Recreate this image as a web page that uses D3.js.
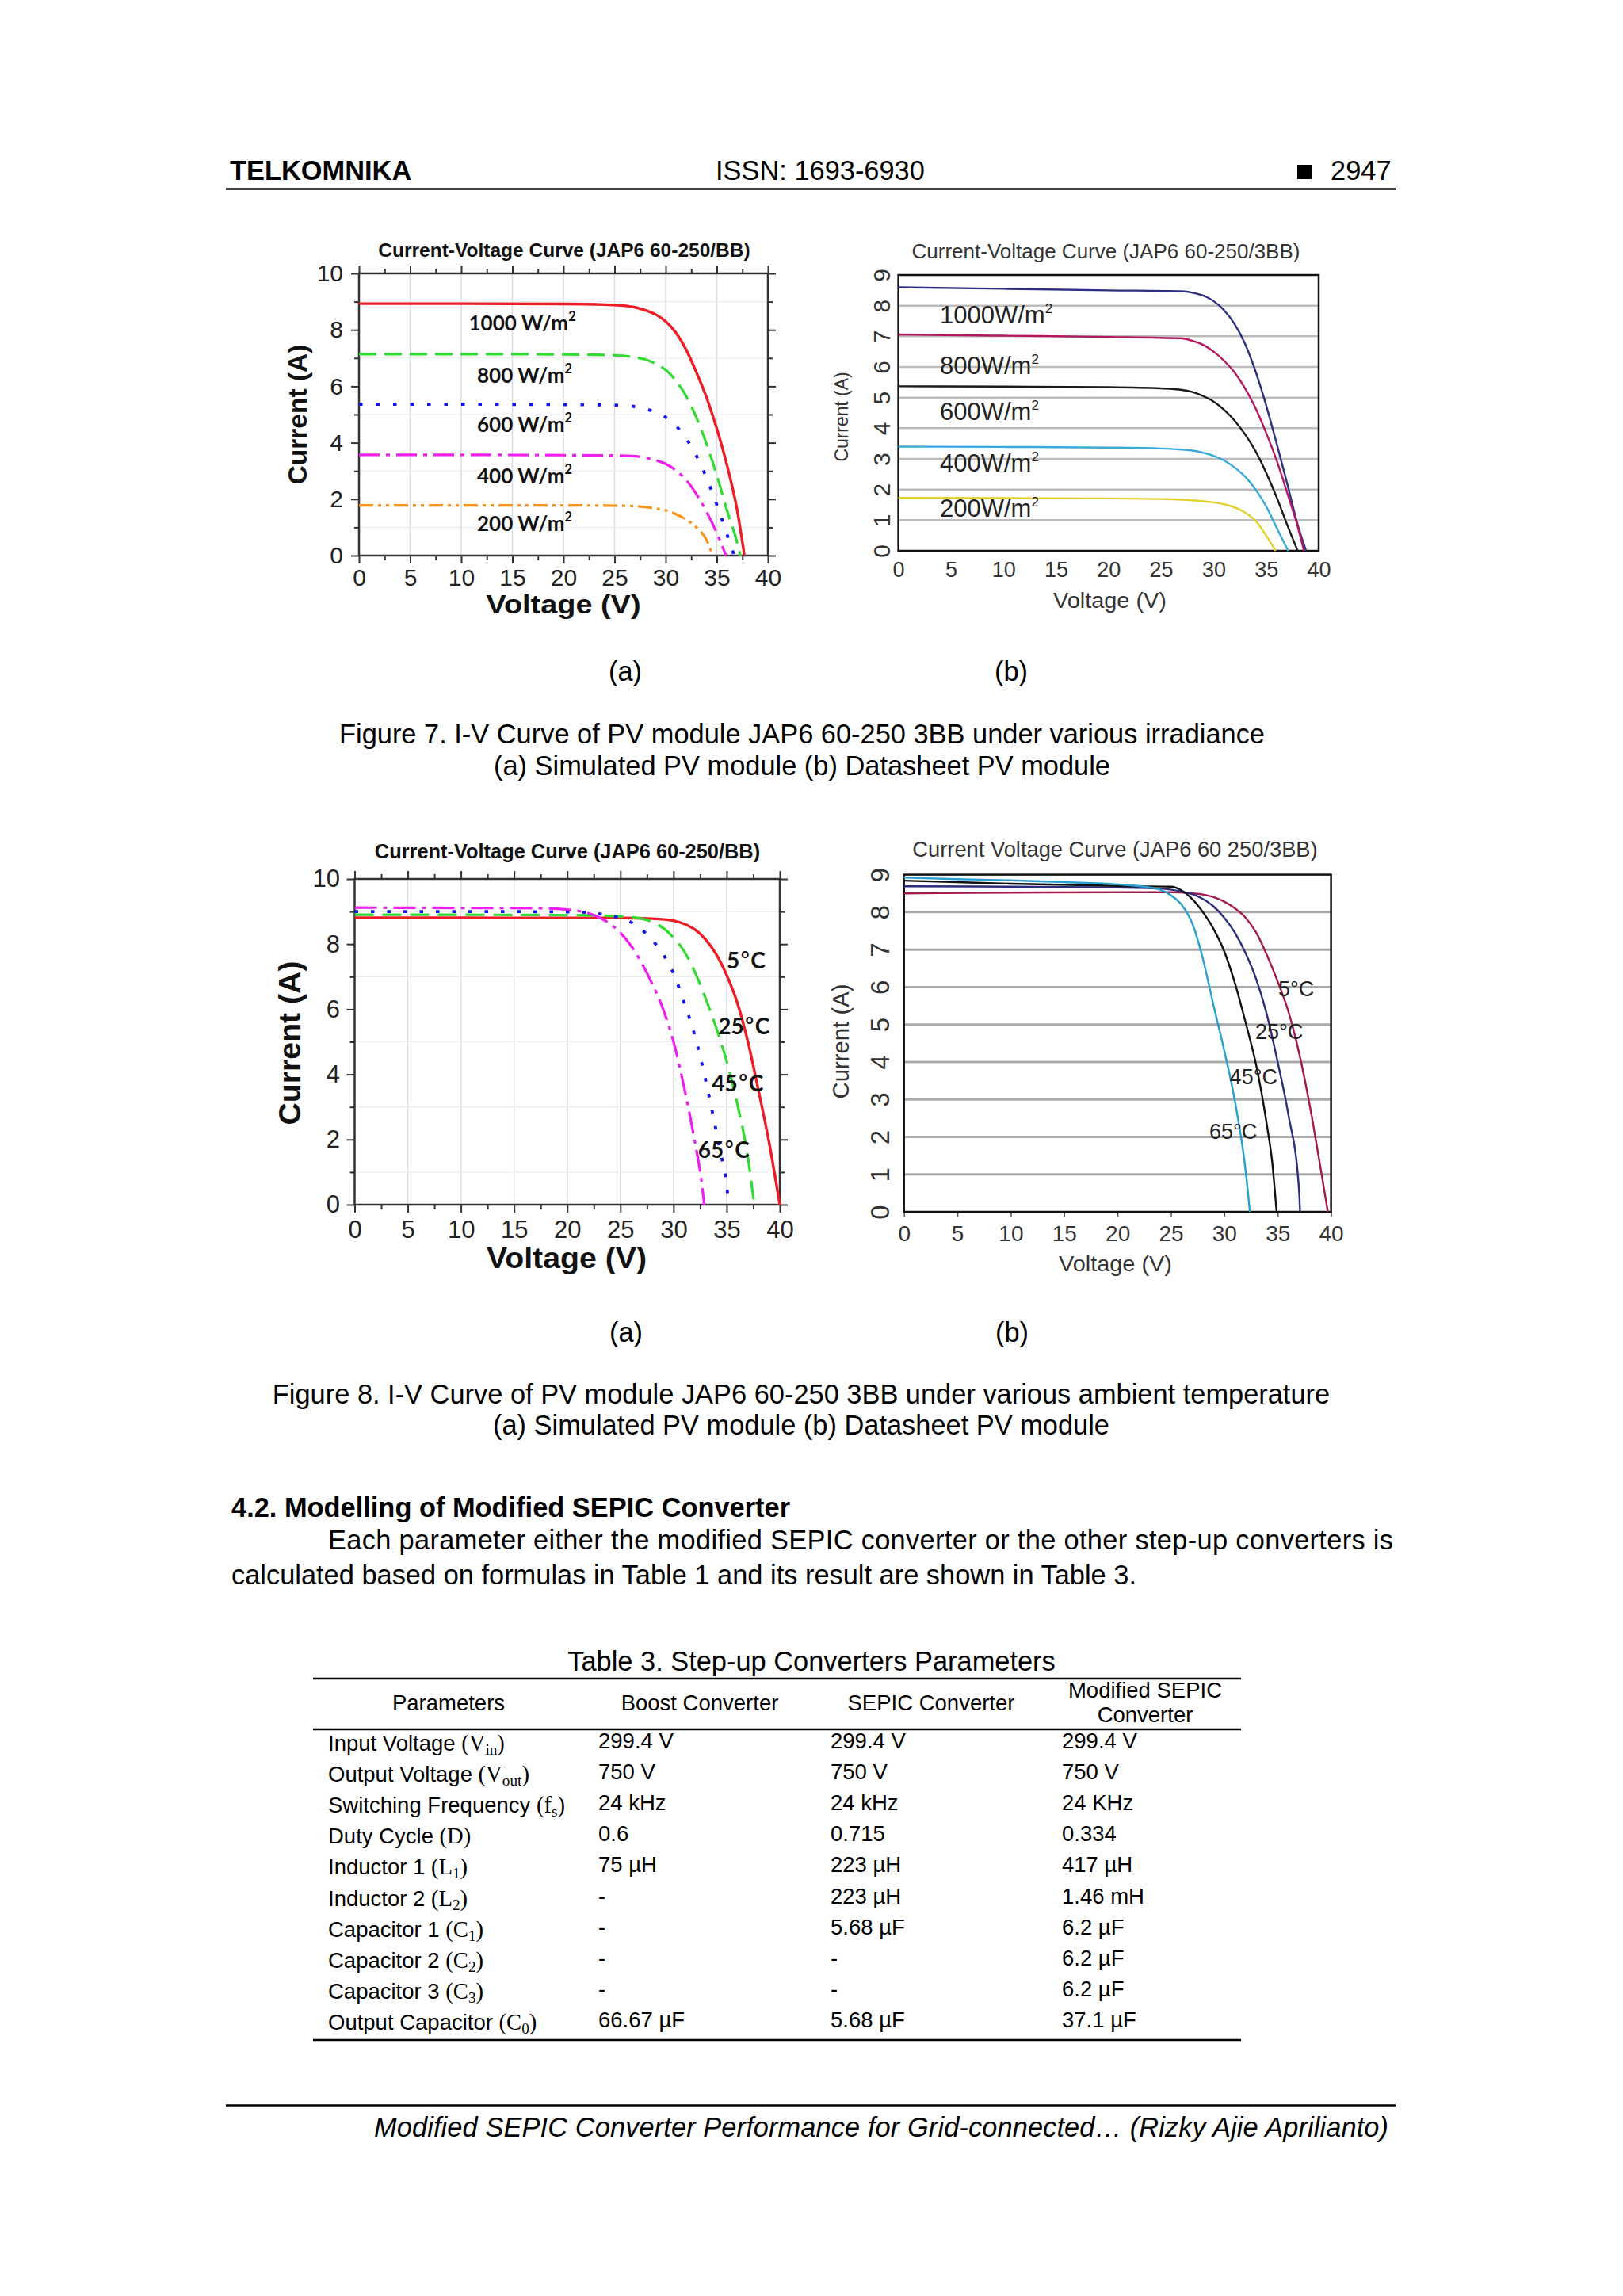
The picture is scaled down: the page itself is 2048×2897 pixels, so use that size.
<!DOCTYPE html>
<html><head><meta charset="utf-8">
<script src="https://cdn.jsdelivr.net/npm/d3@7"></script>
<style>body{margin:0;background:#fff}svg{display:block}</style>
</head><body>
<script>
// ================= DATA =================
const voltageTicks = [0,5,10,15,20,25,30,35,40];
const voltageMinorTicks = [2.5,7.5,12.5,17.5,22.5,27.5,32.5,37.5];
const simCurrentTicks = [0,2,4,6,8,10];
const simCurrentMinorTicks = [1,3,5,7,9];
const sheetCurrentTicks = [0,1,2,3,4,5,6,7,8,9];
const sheetGridTicks = [1,2,3,4,5,6,7,8];

const irradianceLabels = ["1000","800","600","400","200"];
const temperatureLabels = ["5","25","45","65"];

// Figure 7(a) simulated, [voltage V, current A]
const sim7_1000 = [[0,8.93],[10,8.93],[20,8.92],[25,8.88],[27,8.8],[28,8.7],[29,8.55],[30,8.3],[31,7.9],[32,7.3],[33,6.5],[34,5.6],[35,4.5],[36,3.2],[37,1.6],[37.7,0]];
const sim7_800  = [[0,7.14],[10,7.14],[20,7.13],[25,7.1],[27,7.03],[28,6.95],[29,6.8],[30,6.58],[31,6.2],[32,5.65],[33,4.9],[34,3.95],[35,2.85],[36,1.6],[37,0.45],[37.3,0]];
const sim7_600  = [[0,5.36],[10,5.36],[20,5.35],[25,5.33],[27,5.28],[28,5.2],[29,5.08],[30,4.9],[31,4.6],[32,4.15],[33,3.55],[34,2.75],[35,1.8],[36,0.75],[36.7,0]];
const sim7_400  = [[0,3.57],[10,3.57],[20,3.56],[25,3.55],[27,3.52],[28,3.47],[29,3.38],[30,3.25],[31,3.02],[32,2.68],[33,2.18],[34,1.55],[35,0.8],[35.9,0]];
const sim7_200  = [[0,1.78],[10,1.78],[20,1.78],[25,1.77],[27,1.75],[28,1.72],[29,1.67],[30,1.6],[31,1.47],[32,1.28],[33,1.0],[34,0.55],[34.6,0]];

// Figure 7(b) datasheet
const ds7_1000 = [[0,8.6],[10,8.55],[20,8.5],[27,8.47],[28,8.42],[29,8.33],[30,8.15],[31,7.85],[32,7.4],[33,6.75],[34,5.85],[35,4.75],[36,3.5],[37,2.2],[38,0.85],[38.8,0]];
const ds7_800  = [[0,7.06],[10,7.02],[20,6.98],[27,6.93],[28,6.85],[29,6.72],[30,6.5],[31,6.2],[32,5.82],[33,5.3],[34,4.65],[35,3.85],[36,2.95],[37,1.9],[38,0.8],[38.6,0]];
const ds7_600  = [[0,5.37],[10,5.36],[20,5.34],[25,5.3],[27,5.25],[28,5.18],[29,5.05],[30,4.87],[31,4.6],[32,4.25],[33,3.8],[34,3.25],[35,2.55],[36,1.75],[37,0.85],[38.0,0]];
const ds7_400  = [[0,3.4],[10,3.39],[20,3.37],[25,3.34],[27,3.3],[28,3.27],[29,3.2],[30,3.1],[31,2.95],[32,2.72],[33,2.42],[34,2.0],[35,1.45],[36,0.75],[37.1,0]];
const ds7_200  = [[0,1.73],[10,1.72],[20,1.71],[25,1.69],[28,1.65],[30,1.58],[31,1.52],[32,1.42],[33,1.25],[34,0.98],[35,0.5],[35.9,0]];

// Figure 8(a) simulated
const sim8_5  = [[0,8.81],[10,8.81],[20,8.8],[25,8.8],[28,8.78],[30,8.72],[31,8.62],[32,8.45],[33,8.15],[34,7.7],[35,7.05],[36,6.2],[37,5.0],[38,3.5],[39,1.9],[40,0]];
const sim8_25 = [[0,8.9],[10,8.9],[20,8.89],[25,8.85],[27,8.78],[28,8.68],[29,8.5],[30,8.2],[31,7.78],[32,7.15],[33,6.35],[34,5.45],[35,4.4],[36,3.1],[37,1.45],[37.6,0]];
const sim8_45 = [[0,9.0],[10,9.0],[20,8.99],[22,8.97],[24,8.87],[25,8.8],[26,8.67],[27,8.45],[28,8.12],[29,7.7],[30,7.1],[31,6.2],[32,5.2],[33,3.85],[34,2.3],[34.5,1.5],[35,0.6],[35.2,0]];
const sim8_65 = [[0,9.12],[10,9.11],[18,9.1],[20,9.06],[21,9.02],[22,8.95],[23,8.82],[24,8.63],[25,8.35],[26,7.95],[27,7.42],[28,6.78],[29,6.02],[30,5.0],[31,3.6],[32,1.95],[32.6,0.8],[32.9,0]];

// Figure 8(b) datasheet
const ds8_5  = [[0,8.5],[10,8.52],[20,8.53],[25,8.53],[27,8.5],[28,8.47],[29,8.4],[30,8.28],[31,8.1],[32,7.85],[33,7.45],[34,6.85],[35,6.15],[36,5.35],[37,4.25],[38,2.85],[39,1.2],[39.7,0]];
const ds8_25 = [[0,8.69],[10,8.68],[20,8.66],[24,8.63],[26,8.55],[27,8.48],[28,8.35],[29,8.15],[30,7.85],[31,7.45],[32,6.9],[33,6.2],[34,5.25],[35,4.0],[36,2.6],[37,0.6],[37.1,0]];
const ds8_45 = [[0,8.84],[5,8.8],[10,8.76],[20,8.7],[25,8.68],[26,8.58],[27,8.35],[28,8.0],[29,7.55],[30,6.95],[31,6.1],[32,5.05],[33,3.9],[34,2.3],[34.5,1.3],[34.9,0]];
const ds8_65 = [[0,8.92],[5,8.88],[10,8.85],[15,8.8],[20,8.74],[23,8.66],[24,8.6],[25,8.45],[26,8.2],[27,7.7],[28,6.75],[29,5.5],[30,4.3],[31,2.95],[32,1.1],[32.4,0]];

// Table 3
const tableColumns = ["Parameters","Boost Converter","SEPIC Converter","Modified SEPIC","Converter"];
const paramNames = ["Input Voltage","Output Voltage","Switching Frequency","Duty Cycle","Inductor 1","Inductor 2","Capacitor 1","Capacitor 2","Capacitor 3","Output Capacitor"];
const paramSymbols = ["V","V","f","D","L","L","C","C","C","C"];
const paramSubs = ["in","out","s","","1","2","1","2","3","0"];
const boostValues = ["299.4 V","750 V","24 kHz","0.6","75 µH","-","-","-","-","66.67 µF"];
const sepicValues = ["299.4 V","750 V","24 kHz","0.715","223 µH","223 µH","5.68 µF","-","-","5.68 µF"];
const modSepicValues = ["299.4 V","750 V","24 KHz","0.334","417 µH","1.46 mH","6.2 µF","6.2 µF","6.2 µF","37.1 µF"];

// ================= RENDER =================
const SANS = "'Liberation Sans', Arial, Helvetica, sans-serif";
const CAL = "Lato, 'Open Sans', sans-serif";
const SERIF = "'Liberation Serif', 'DejaVu Serif', serif";

const svg = d3.select("body").append("svg").attr("width",2048).attr("height",2897);
svg.append("rect").attr("width",2048).attr("height",2897).attr("fill","#fff");

function T(parent, x, y, str, o = {}) {
  const t = parent.append("text").attr("x",x).attr("y",y).text(str)
    .attr("font-family", o.family || SANS).attr("font-size", o.size || 34.4)
    .attr("font-weight", o.weight || "normal").attr("font-style", o.style || "normal")
    .attr("text-anchor", o.anchor || "start").attr("fill", o.fill || "#000");
  if (o.len) t.attr("textLength", o.len).attr("lengthAdjust", o.adjust || "spacingAndGlyphs");
  if (o.rotate) t.attr("transform", `rotate(${o.rotate},${x},${y})`);
  return t;
}
function HL(x1, x2, y, w) {
  svg.append("line").attr("x1",x1).attr("x2",x2).attr("y1",y).attr("y2",y)
    .attr("stroke","#000").attr("stroke-width",w);
}

// ---- header ----
T(svg, 290, 227, "TELKOMNIKA", {weight:"bold"});
T(svg, 903, 227, "ISSN: 1693-6930");
svg.append("rect").attr("x",1637).attr("y",208).attr("width",18).attr("height",18).attr("fill","#000");
T(svg, 1679, 227, "2947");
HL(285, 1761, 238.5, 2.5);

// ---- simulated chart (a) ----
function drawSim(c) {
  const g = svg.append("g");
  const x = d3.scaleLinear().domain([0,40]).range([c.xL, c.xR]);
  const y = d3.scaleLinear().domain([0,10]).range([c.yB, c.yT]);
  g.append("g").selectAll("line").data(voltageTicks.slice(1,-1)).join("line")
    .attr("x1",d=>x(d)).attr("x2",d=>x(d)).attr("y1",y(0)).attr("y2",y(10))
    .attr("stroke","#dcdce4").attr("stroke-width",1.5);
  g.append("g").selectAll("line").data(simCurrentMinorTicks).join("line")
    .attr("x1",x(0)).attr("x2",x(40)).attr("y1",d=>y(d)).attr("y2",d=>y(d))
    .attr("stroke","#ececf0").attr("stroke-width",1.2);
  const st = sel => {
    sel.select(".domain").remove();
    sel.selectAll("line").attr("stroke","#333").attr("stroke-width",2);
    sel.selectAll("text").attr("font-family",SANS).attr("font-size",c.tickFont).attr("fill","#222");
  };
  g.append("g").attr("transform",`translate(0,${c.yB})`)
    .call(d3.axisBottom(x).tickValues(voltageTicks).tickSize(10).tickPadding(c.xPad)).call(st);
  g.append("g").attr("transform",`translate(0,${c.yB})`)
    .call(d3.axisBottom(x).tickValues(voltageMinorTicks).tickSize(6).tickFormat("")).call(st);
  g.append("g").attr("transform",`translate(0,${c.yT})`)
    .call(d3.axisTop(x).tickValues(voltageTicks).tickSize(10).tickFormat("")).call(st);
  g.append("g").attr("transform",`translate(0,${c.yT})`)
    .call(d3.axisTop(x).tickValues(voltageMinorTicks).tickSize(6).tickFormat("")).call(st);
  g.append("g").attr("transform",`translate(${c.xL},0)`)
    .call(d3.axisLeft(y).tickValues(simCurrentTicks).tickSize(10).tickPadding(c.yPad)).call(st);
  g.append("g").attr("transform",`translate(${c.xL},0)`)
    .call(d3.axisLeft(y).tickValues(simCurrentMinorTicks).tickSize(6).tickFormat("")).call(st);
  g.append("g").attr("transform",`translate(${c.xR},0)`)
    .call(d3.axisRight(y).tickValues(simCurrentTicks).tickSize(10).tickFormat("")).call(st);
  g.append("g").attr("transform",`translate(${c.xR},0)`)
    .call(d3.axisRight(y).tickValues(simCurrentMinorTicks).tickSize(6).tickFormat("")).call(st);
  g.append("rect").attr("x",x(0)).attr("y",y(10)).attr("width",x(40)-x(0)).attr("height",y(0)-y(10))
    .attr("fill","none").attr("stroke","#333").attr("stroke-width",2.5);
  const line = d3.line().x(d=>x(d[0])).y(d=>y(d[1])).curve(d3.curveMonotoneX);
  c.series.forEach(s => {
    g.append("path").attr("d", line(s.data)).attr("fill","none").attr("stroke",s.color)
      .attr("stroke-width",s.w || 3.2).attr("stroke-dasharray",s.dash || null);
  });
  c.labels.forEach(l => {
    const t = g.append("text").attr("x",x(l.v)).attr("y",y(l.i))
      .attr("font-family",CAL).attr("font-weight","bold").attr("font-size",c.labelFont).attr("fill","#111");
    t.append("tspan").text(l.main);
    t.append("tspan").text(l.sup).attr("font-size",c.labelFont*0.62).attr("dy",-c.labelFont*0.45).attr("dx",l.after ? 2 : 0);
    if (l.after) t.append("tspan").text(l.after).attr("dy",c.labelFont*0.45).attr("dx",2);
  });
  T(g, c.title.x, c.title.y, "Current-Voltage Curve (JAP6 60-250/BB)", {size:c.title.size, weight:"bold", anchor:"middle", fill:"#111"});
  T(g, c.xl.x, c.xl.y, "Voltage (V)", {size:c.xl.size, weight:"bold", anchor:"middle", len:c.xl.len, fill:"#111"});
  T(g, c.yl.x, c.yl.y, "Current (A)", {size:c.yl.size, weight:"bold", anchor:"middle", len:c.yl.len, rotate:-90, fill:"#111"});
}

// ---- datasheet chart (b) ----
function drawSheet(c) {
  const g = svg.append("g");
  const x = d3.scaleLinear().domain([0,40]).range([c.xL, c.xR]);
  const y = d3.scaleLinear().domain([0,9]).range([c.yB, c.yT]);
  g.append("g").selectAll("line").data(sheetGridTicks).join("line")
    .attr("x1",x(0)).attr("x2",x(40)).attr("y1",d=>y(d)).attr("y2",d=>y(d))
    .attr("stroke",c.gridColor).attr("stroke-width",c.gridW);
  const bx = g.append("g").attr("transform",`translate(0,${c.yB})`)
    .call(d3.axisBottom(x).tickValues(voltageTicks).tickSize(c.xTick).tickPadding(c.xPad));
  bx.select(".domain").remove();
  bx.selectAll("line").attr("stroke","#555").attr("stroke-width",1.5);
  bx.selectAll("text").attr("font-family",SANS).attr("font-size",c.xFont).attr("fill","#333");
  const ly = g.append("g").attr("transform",`translate(${c.xL},0)`)
    .call(d3.axisLeft(y).tickValues(sheetCurrentTicks).tickSize(0));
  ly.select(".domain").remove();
  ly.selectAll("text").attr("x",0).attr("dy",null)
    .attr("transform",`translate(${-c.yOff},0) rotate(-90)`)
    .attr("text-anchor","middle").attr("dominant-baseline","central")
    .attr("font-family",SANS).attr("font-size",c.yFont).attr("fill","#333");
  g.append("rect").attr("x",x(0)).attr("y",y(9)).attr("width",x(40)-x(0)).attr("height",y(0)-y(9))
    .attr("fill","none").attr("stroke","#111").attr("stroke-width",2.5);
  const line = d3.line().x(d=>x(d[0])).y(d=>y(d[1])).curve(d3.curveMonotoneX);
  c.series.forEach(s => {
    g.append("path").attr("d", line(s.data)).attr("fill","none").attr("stroke",s.color).attr("stroke-width",2.4);
  });
  c.labels.forEach(l => {
    const t = g.append("text").attr("x",x(l.v)).attr("y",y(l.i))
      .attr("font-family",SANS).attr("font-size",c.labelFont).attr("fill","#222");
    t.append("tspan").text(l.main);
    if (l.sup) t.append("tspan").text(l.sup).attr("font-size",c.labelFont*0.55).attr("dy",-c.labelFont*0.42);
  });
  T(g, c.title.x, c.title.y, c.title.text, {size:c.title.size, anchor:"middle", fill:"#333"});
  T(g, c.xl.x, c.xl.y, "Voltage (V)", {size:c.xl.size, anchor:"middle", len:c.xl.len, fill:"#333"});
  T(g, c.yl.x, c.yl.y, "Current (A)", {size:c.yl.size, anchor:"middle", len:c.yl.len, rotate:-90, fill:"#333"});
}

const RED="#ee1c24", GREEN="#2fdc2f", BLUE="#1414f0", MAG="#ef1fef", ORANGE="#f7941d";

// Figure 7(a)
drawSim({
  xL:453, xR:969, yB:701, yT:345, tickFont:30, xPad:7, yPad:10, labelFont:26,
  series:[
    {data:sim7_1000, color:RED, w:3.4},
    {data:sim7_800, color:GREEN, dash:"22,10"},
    {data:sim7_600, color:BLUE, dash:"4.5,17", w:3.8},
    {data:sim7_400, color:MAG, dash:"26,8,5,8"},
    {data:sim7_200, color:ORANGE, dash:"18,6,4,6,4,6"}
  ],
  labels:[
    {v:10.74, i:7.99, main:irradianceLabels[0]+" W/m", sup:"2"},
    {v:11.55, i:6.13, main:irradianceLabels[1]+" W/m", sup:"2"},
    {v:11.55, i:4.38, main:irradianceLabels[2]+" W/m", sup:"2"},
    {v:11.55, i:2.56, main:irradianceLabels[3]+" W/m", sup:"2"},
    {v:11.55, i:0.87, main:irradianceLabels[4]+" W/m", sup:"2"}
  ],
  title:{x:712, y:324, size:24.5},
  xl:{x:711, y:774, size:34, len:195},
  yl:{x:387, y:523, size:33.5, len:177}
});

// Figure 7(b)
drawSheet({
  xL:1133.6, xR:1664, yB:695, yT:347, xTick:0, xPad:14, xFont:27, yOff:21, yFont:30,
  gridColor:"#bdbdbd", gridW:2.5, labelFont:31,
  series:[
    {data:ds7_1000, color:"#2e2f80"},
    {data:ds7_800, color:"#b3175c"},
    {data:ds7_600, color:"#1a1a1a"},
    {data:ds7_400, color:"#3aa8d8"},
    {data:ds7_200, color:"#e3d12b"}
  ],
  labels:[
    {v:3.95, i:7.42, main:irradianceLabels[0]+"W/m", sup:"2"},
    {v:3.95, i:5.77, main:irradianceLabels[1]+"W/m", sup:"2"},
    {v:3.95, i:4.27, main:irradianceLabels[2]+"W/m", sup:"2"},
    {v:3.95, i:2.59, main:irradianceLabels[3]+"W/m", sup:"2"},
    {v:3.95, i:1.11, main:irradianceLabels[4]+"W/m", sup:"2"}
  ],
  title:{x:1395.5, y:326, size:26, text:"Current-Voltage Curve (JAP6 60-250/3BB)"},
  xl:{x:1400.5, y:767, size:28, len:143},
  yl:{x:1069.6, y:526, size:23, len:113}
});

// Figure 7 captions
T(svg, 789, 859, "(a)", {anchor:"middle"});
T(svg, 1276, 859, "(b)", {anchor:"middle"});
T(svg, 1012, 938, "Figure 7. I-V Curve of PV module JAP6 60-250 3BB under various irradiance", {anchor:"middle"});
T(svg, 1012, 978, "(a) Simulated PV module (b) Datasheet PV module", {anchor:"middle"});

// Figure 8(a)
drawSim({
  xL:447.5, xR:984, yB:1520, yT:1109, tickFont:31, xPad:10, yPad:8.5, labelFont:28,
  series:[
    {data:sim8_5, color:RED, w:3.4},
    {data:sim8_25, color:GREEN, dash:"24,11"},
    {data:sim8_45, color:BLUE, dash:"4.5,16", w:3.8},
    {data:sim8_65, color:MAG, dash:"28,8,5,8"}
  ],
  labels:[
    {v:35.0, i:7.25, main:temperatureLabels[0], sup:"o", after:"C"},
    {v:34.2, i:5.23, main:temperatureLabels[1], sup:"o", after:"C"},
    {v:33.6, i:3.48, main:temperatureLabels[2], sup:"o", after:"C"},
    {v:32.3, i:1.44, main:temperatureLabels[3], sup:"o", after:"C"}
  ],
  title:{x:716, y:1083, size:25.4},
  xl:{x:715, y:1600, size:37, len:202},
  yl:{x:379, y:1316, size:38, len:207}
});

// Figure 8(b)
drawSheet({
  xL:1140.7, xR:1679.6, yB:1529, yT:1103.6, xTick:6, xPad:11, xFont:28, yOff:30.7, yFont:33,
  gridColor:"#aaaaaa", gridW:3, labelFont:27,
  series:[
    {data:ds8_5, color:"#a5194f"},
    {data:ds8_25, color:"#2b2d7c"},
    {data:ds8_45, color:"#111111"},
    {data:ds8_65, color:"#2aa0d2"}
  ],
  labels:[
    {v:35.06, i:5.75, main:temperatureLabels[0]+"°C"},
    {v:32.9, i:4.61, main:temperatureLabels[1]+"°C"},
    {v:30.5, i:3.41, main:temperatureLabels[2]+"°C"},
    {v:28.6, i:1.95, main:temperatureLabels[3]+"°C"}
  ],
  title:{x:1407, y:1081, size:27.3, text:"Current Voltage Curve (JAP6 60 250/3BB)"},
  xl:{x:1407.5, y:1604, size:28, len:143},
  yl:{x:1071, y:1314, size:29, len:145}
});

// Figure 8 captions
T(svg, 790, 1693, "(a)", {anchor:"middle"});
T(svg, 1277, 1693, "(b)", {anchor:"middle"});
T(svg, 1011, 1771, "Figure 8. I-V Curve of PV module JAP6 60-250 3BB under various ambient temperature", {anchor:"middle"});
T(svg, 1011, 1810, "(a) Simulated PV module (b) Datasheet PV module", {anchor:"middle"});

// Section text
T(svg, 292, 1914, "4.2. Modelling of Modified SEPIC Converter", {weight:"bold"});
T(svg, 414, 1955, "Each parameter either the modified SEPIC converter or the other step-up converters is", {len:1344, adjust:"spacing"});
T(svg, 292, 1999, "calculated based on formulas in Table 1 and its result are shown in Table 3.");

// ---- Table 3 ----
T(svg, 1024, 2108, "Table 3. Step-up Converters Parameters", {anchor:"middle"});
HL(395, 1566, 2118, 2.5);
const TF = 27.5;
T(svg, 566, 2158, tableColumns[0], {size:TF, anchor:"middle"});
T(svg, 883, 2158, tableColumns[1], {size:TF, anchor:"middle"});
T(svg, 1175, 2158, tableColumns[2], {size:TF, anchor:"middle"});
T(svg, 1445, 2142, tableColumns[3], {size:TF, anchor:"middle"});
T(svg, 1445, 2173, tableColumns[4], {size:TF, anchor:"middle"});
HL(395, 1566, 2182, 2.5);
const rowY = i => 2209 + i * 39.1;
paramNames.forEach((p, i) => {
  const t = svg.append("text").attr("x",414).attr("y",rowY(i)).attr("font-size",TF).attr("font-family",SANS);
  t.append("tspan").text(p + " ");
  t.append("tspan").attr("font-family",SERIF).attr("font-size",TF*1.04).text("(" + paramSymbols[i]);
  if (paramSubs[i]) {
    t.append("tspan").attr("font-family",SERIF).attr("font-size",TF*0.7).attr("dy",5).text(paramSubs[i]);
    t.append("tspan").attr("font-family",SERIF).attr("font-size",TF*1.04).attr("dy",-5).text(")");
  } else {
    t.append("tspan").attr("font-family",SERIF).attr("font-size",TF*1.04).text(")");
  }
  T(svg, 755, rowY(i) - 3, boostValues[i], {size:TF});
  T(svg, 1048, rowY(i) - 3, sepicValues[i], {size:TF});
  T(svg, 1340, rowY(i) - 3, modSepicValues[i], {size:TF});
});
HL(395, 1566, 2574, 2.5);

// ---- footer ----
HL(285, 1761, 2656.5, 2.5);
T(svg, 1752, 2696, "Modified SEPIC Converter Performance for Grid-connected… (Rizky Ajie Aprilianto)", {style:"italic", anchor:"end", len:1280, adjust:"spacing"});
</script>
</body></html>
